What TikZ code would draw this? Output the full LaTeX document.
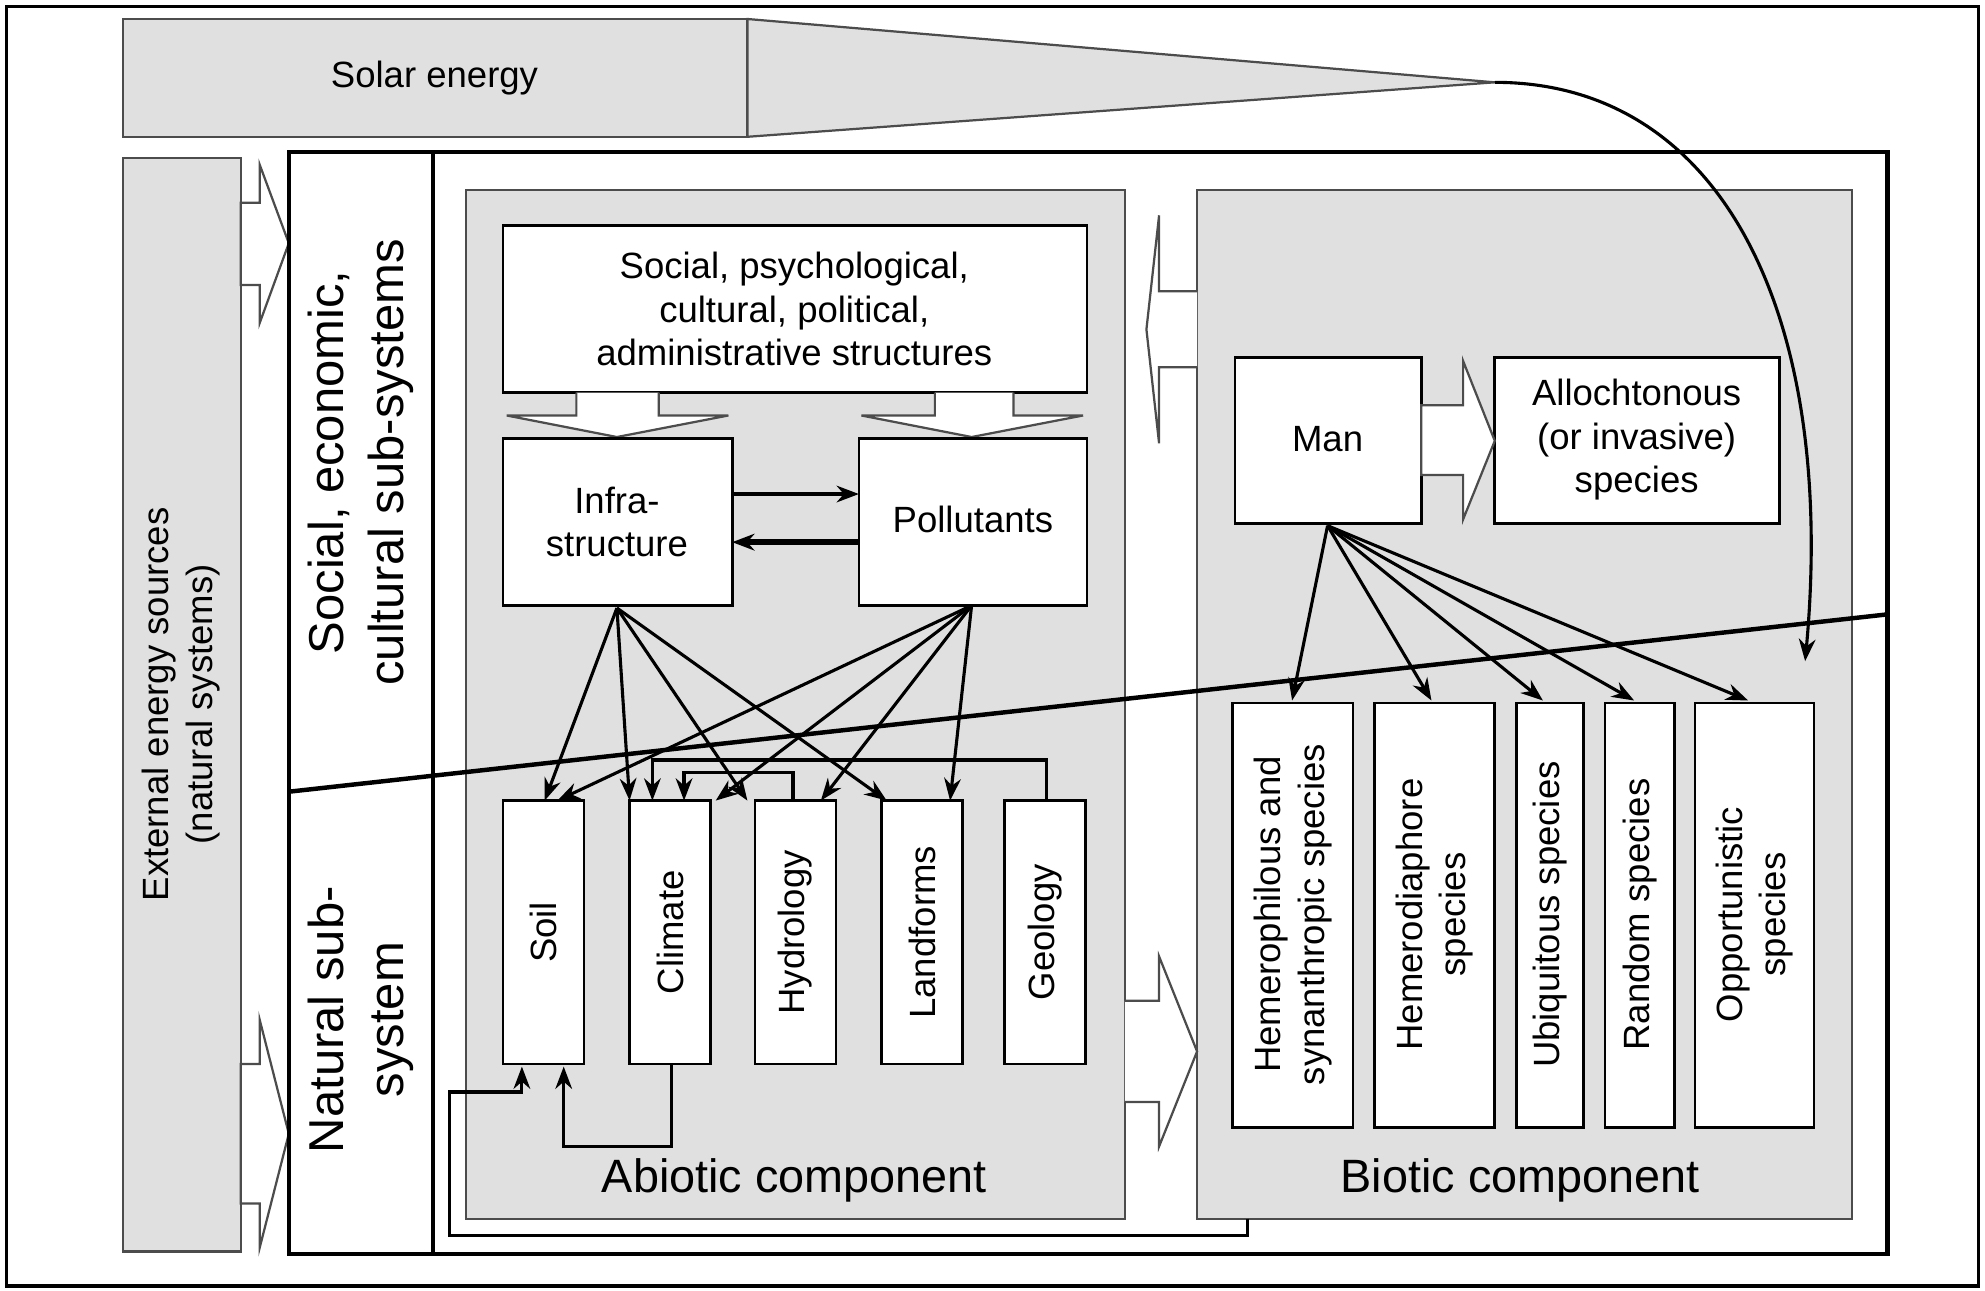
\documentclass[tikz,border=0pt]{standalone}
\usepackage{fontspec}
\setmainfont{Liberation Sans}
\usetikzlibrary{arrows.meta}
\begin{document}
\begin{tikzpicture}[x=0.01cm,y=-0.01cm,font=\fontsize{8.2}{9.8}\selectfont,
 gp/.style={draw=black!70,fill=black!12,line width=0.5pt},
 wb/.style={draw=black,fill=white,line width=0.6pt},
 ha/.style={draw=black!70,fill=white,line width=0.5pt},
 ar/.style={-{Stealth[length=5pt]},line width=0.7pt},
 lbl/.style={align=center,inner sep=0pt}]
\useasboundingbox (0,0) rectangle (1567,1019);
\draw[line width=0.8pt] (5,5) rectangle (1562,1015);
% solar
\draw[gp] (97,15) rectangle (590,108);
\draw[gp] (590,15) -- (1180,65) -- (590,108) -- cycle;
\node[lbl] (solar) at (343,62) {Solar energy};
\coordinate (sp) at (1180,65);
\coordinate (solend) at (1425,522);
% external
\draw[gp] (97,125) rectangle (190,988);
\node[lbl,rotate=90] (ext) at (143,556) {External energy sources\\(natural systems)};
\draw[ha] (190,160)--(205,160)--(205,130)--(228,192)--(205,255)--(205,225)--(190,225)--cycle;
\draw[ha] (190,840)--(205,840)--(205,805)--(228,895)--(205,985)--(205,950)--(190,950)--cycle;
% main frame
\draw[line width=1pt] (228,120) rectangle (1490,990);
\draw[line width=1pt] (342,120) -- (342,990);
\node[lbl,rotate=90,font=\fontsize{11}{13.5}\selectfont] at (285,365) {Social, economic,\\cultural sub-systems};
\node[lbl,rotate=90,font=\fontsize{11}{13.5}\selectfont] at (285,805) {Natural sub-\\system};
% panels
\draw[gp] (368,150) rectangle (888,962);
\draw[gp] (945,150) rectangle (1462,962);
\node[lbl,font=\fontsize{10.5}{13}\selectfont] (abl) at (627,932) {Abiotic component};
\node[lbl,font=\fontsize{10.5}{13}\selectfont] (bbl) at (1200,932) {Biotic component};
% diagonal
\draw[line width=1pt] (228,625) -- (1490,485);
% abiotic boxes
\draw[wb] (397,178) rectangle (858,310);
\node[lbl] (soc) at (627,244) {Social, psychological,\\cultural, political,\\administrative structures};
\draw[ha] (455,310)--(455,328)--(400,328)--(487,345)--(575,328)--(520,328)--(520,310);
\draw[ha] (738,310)--(738,328)--(680,328)--(767,345)--(855,328)--(800,328)--(800,310);
\draw[wb] (397,346) rectangle (578,478);
\node[lbl] (inf) at (487,412) {Infra-\\structure};
\draw[wb] (678,346) rectangle (858,478);
\node[lbl] (pol) at (768,410) {Pollutants};
\draw[ar] (578,390) -- (678,390);
\draw[ar,line width=1.2pt] (678,428) -- (578,428);
\foreach \n/\x/\t in {soil/397/Soil,clim/497/Climate,hyd/596/Hydrology,land/696/Landforms,geo/793/Geology}{
 \draw[wb] (\x,632) rectangle ++(64,208);
 \node[lbl,rotate=90] (\n) at ({\x+32},736) {\t};}
\coordinate (ib) at (487,480);
\coordinate (pb) at (767,478);
\foreach \tx in {430,497,590,700} \draw[ar] (ib) -- (\tx,632);
\foreach \tx in {440,565,648,750} \draw[ar] (pb) -- (\tx,632);
\draw[ar] (826,632) -- (826,600) -- (515,600) -- (515,632);
\draw[ar] (626,632) -- (626,610) -- (540,610) -- (540,632);
\draw[ar] (530,840) -- (530,905) -- (445,905) -- (445,842);
\draw[ar] (985,962) -- (985,975) -- (355,975) -- (355,862) -- (412,862) -- (412,842);
% abiotic->biotic and back
\draw[ha] (888,790)--(915,790)--(915,755)--(945,830)--(915,905)--(915,870)--(888,870);
\draw[ha] (945,230)--(915,230)--(915,170)--(905,260)--(915,350)--(915,290)--(945,290);
% biotic
\draw[wb] (975,282) rectangle (1122,413);
\node[lbl] (man) at (1048,347) {Man};
\draw[wb] (1180,282) rectangle (1405,413);
\node[lbl] (all) at (1292,347) {Allochtonous\\(or invasive)\\species};
\draw[ha] (1122,320)--(1155,320)--(1155,285)--(1180,348)--(1155,410)--(1155,375)--(1122,375)--cycle;
\foreach \n/\x/\w/\t in {hem/973/95/{Hemerophilous and\\synanthropic species},hed/1085/95/{Hemerodiaphore\\species},ubi/1197/53/{Ubiquitous species},ran/1267/55/{Random species},opp/1338/94/{Opportunistic\\species}}{
 \draw[wb] (\x,555) rectangle ++(\w,335);
 \node[lbl,rotate=90] (\n) at ({\x+\w/2},722) {\t};}
\coordinate (mb) at (1048,415);
\foreach \tx in {1020,1130,1218,1290,1380} \draw[ar] (mb) -- (\tx,553);
% solar curve
\draw[ar] (sp) .. controls (1360,65) and (1450,250) .. (solend);
\end{tikzpicture}
\end{document}
